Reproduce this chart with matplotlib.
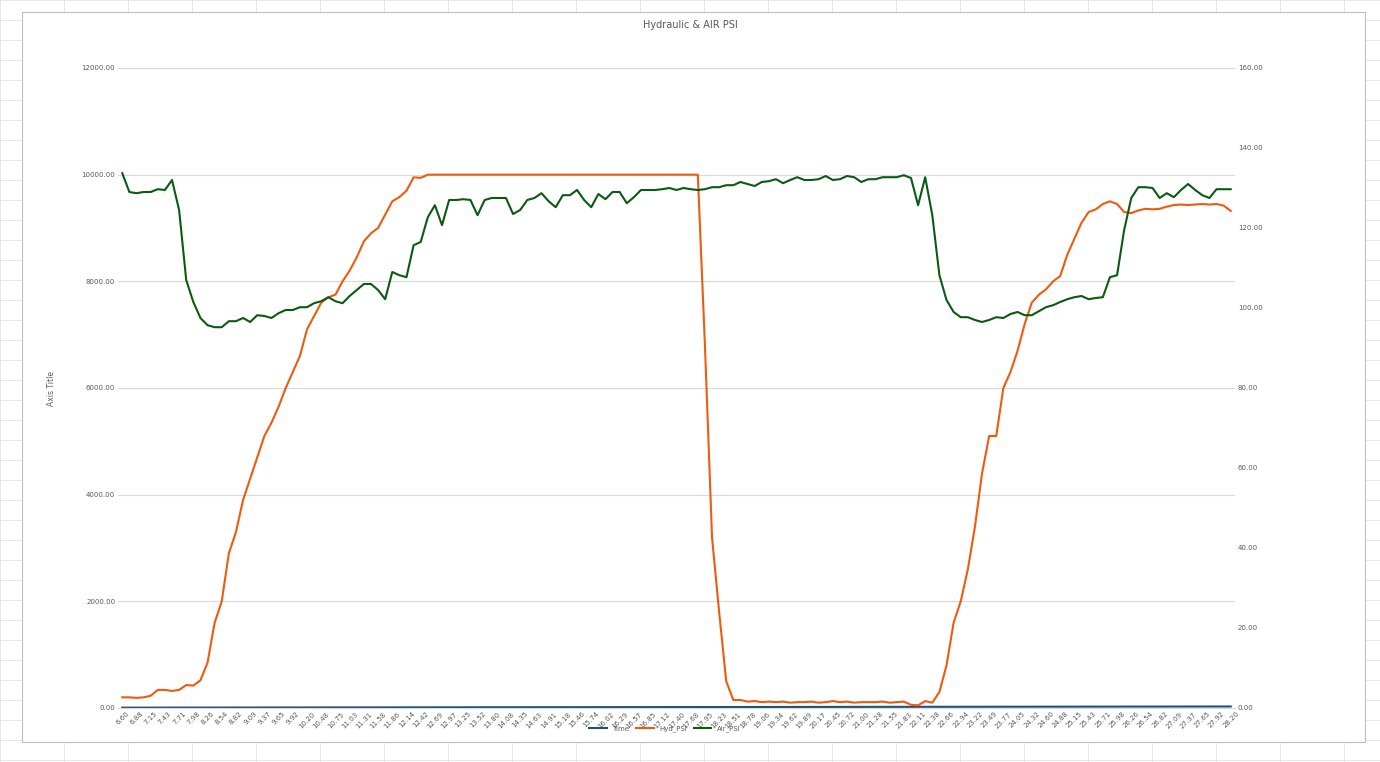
import matplotlib
matplotlib.use("Agg")
import matplotlib.pyplot as plt
import numpy as np
from matplotlib.patches import Rectangle

air = [133.7,129,128.7,129,129,129.7,129.5,132,124.5,107,
101.5,97.5,95.7,95.2,95.2,96.7,96.7,97.5,96.5,98.2,
98,97.5,98.7,99.5,99.5,100.2,100.2,101.2,101.7,102.7,
101.7,101.2,103,104.5,106,106,104.5,102.2,109,108.2,
107.7,115.7,116.5,122.7,125.7,120.7,127,127,127.2,127,
123.2,127,127.5,127.5,127.5,123.5,124.5,127,127.5,128.7,
126.7,125.2,128.2,128.2,129.5,127,125.2,128.5,127.2,129,
129,126.2,127.7,129.5,129.5,129.5,129.7,130,129.5,130,
129.7,129.5,129.7,130.2,130.2,130.7,130.7,131.5,131,130.5,
131.5,131.7,132.2,131.2,132,132.7,132,132,132.2,133,
132,132.2,133,132.7,131.5,132.2,132.2,132.7,132.7,132.7,
133.2,132.5,125.7,132.7,123.2,108.2,102,99,97.7,97.7,
97,96.5,97,97.7,97.5,98.5,99,98.2,98.2,99.2,
100.2,100.7,101.5,102.2,102.7,103,102.2,102.5,102.7,107.7,
108.2,119.5,127.5,130.2,130.2,130,127.5,128.7,127.7,129.5,
131,129.5,128.2,127.5,129.7,129.7,129.7]

hyd = ([200,200,190,200,230,340,340,320,340,430,
420,520,850,1600,2000,2900,3300,3900,4300,4700,
5100,5350,5650,6000,6300,6600,7100,7350,7600,7700,
7750,8000,8200,8450,8750,8900,9000,9250,9500,9580,
9700,9950,9940,10000] + [10000]*38 +
[6800,3200,1800,500,
150,150,120,130,110,120,110,120,100,110,110,120,100,110,130,110,120,100,110,110,110,120,100,110,
120,60,50,130,100,300,800,1600,2000,2600,
3400,4400,5100,5100,6000,6300,6700,7200,7600,7750,
7850,8000,8100,8500,8800,9100,9300,9350,9450,9500,
9450,9300,9280,9330,9360,9350,9360,9400,9430,9440,
9430,9440,9450,9440,9450,9420,9320])

n = min(len(air), len(hyd))
air = air[:n]
hyd = hyd[:n]
time = [round(6.6 + (28.2 - 6.6) * i / (n - 1), 2) for i in range(n)]
x = np.arange(n)

fig = plt.figure(figsize=(13.8, 7.62), dpi=100)
fig.patch.set_facecolor("white")
for yy in np.arange(0, 762, 20):
    fig.add_artist(plt.Line2D([0, 1], [1 - yy / 762] * 2, color="#e3e3e3", lw=0.6, zorder=-5))
for xx in np.arange(0, 1380, 64):
    fig.add_artist(plt.Line2D([xx / 1380] * 2, [0, 1], color="#e3e3e3", lw=0.6, zorder=-5))
fig.add_artist(Rectangle((22 / 1380, 1 - 742 / 762), (1365 - 22) / 1380, (742 - 12) / 762,
                         transform=fig.transFigure, facecolor="white", edgecolor="#bdbdbd", lw=0.8, zorder=-4))

ax = fig.add_axes([118 / 1380, 1 - 708 / 762, (1235 - 118) / 1380, (708 - 68) / 762])
ax.set_facecolor("none")
ax2 = ax.twinx()

l1, = ax.plot(x, time, color="#1F4E79", lw=1.5, label="Time")
l2, = ax.plot(x, hyd, color="#F05A0F", lw=1.5, label="Hyd_PSI")
l3, = ax2.plot(x, air, color="#0B5A12", lw=1.5, label="Air_PSI")

ax.set_ylim(0, 12000)
ax2.set_ylim(0, 160)
ax.set_yticks(np.arange(0, 12001, 2000))
ax2.set_yticks(np.arange(0, 161, 20))
ax.set_yticklabels([f"{v:.2f}" for v in np.arange(0, 12001, 2000)], fontsize=5, color="#595959")
ax2.set_yticklabels([f"{v:.2f}" for v in np.arange(0, 161, 20)], fontsize=5, color="#595959")
ax.set_xlim(-0.6, n - 0.4)
ax.set_xticks(x[::2])
ax.set_xticklabels([f"{t:.2f}" for t in time[::2]], rotation=45, fontsize=5, color="#595959")
ax.grid(axis="y", color="#d9d9d9", lw=0.8)
ax.set_axisbelow(True)
for a in (ax, ax2):
    for s in a.spines.values():
        s.set_visible(False)
    a.tick_params(length=0, pad=2)
ax.spines["bottom"].set_visible(True)
ax.spines["bottom"].set_color("#d9d9d9")
ax.set_ylabel("Axis Title", fontsize=5.5, color="#595959", labelpad=18)
fig.text(0.5, 1 - 25 / 762, "Hydraulic & AIR PSI", ha="center", va="center", fontsize=7, color="#595959")
fig.legend(handles=[l1, l2, l3], loc="center", bbox_to_anchor=(665 / 1380, 1 - 729 / 762),
           ncol=3, fontsize=5, frameon=False, handlelength=2.5, columnspacing=1.0, labelcolor="#595959")
fig.savefig("out.png", dpi=100)
